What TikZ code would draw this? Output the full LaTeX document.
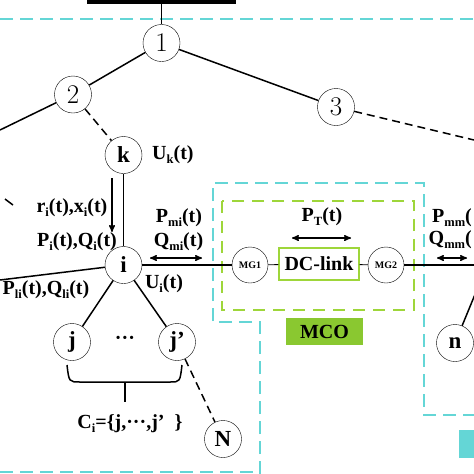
\documentclass[tikz,border=0pt]{standalone}
\usepackage{fontspec}
\newfontfamily\tnr{Liberation Serif}
\usetikzlibrary{arrows,positioning}
\definecolor{areacyan}{RGB}{100,214,214}
\definecolor{linkgreen}{RGB}{158,214,58}
\definecolor{mcofill}{RGB}{138,200,48}
\newcommand{\idx}[1]{\raisebox{-.35ex}{\fontsize{12.5}{12.5}\selectfont #1}}
\newcommand{\mdots}{\textperiodcentered\textperiodcentered\textperiodcentered}
\tikzset{bus/.style={shape=circle, draw, fill=white, inner sep=0pt,
    minimum size=37pt, font=\tnr\bfseries\fontsize{23}{23}\selectfont}}
\tikzset{numbus/.style={bus, font=\fontsize{27}{27}\selectfont}}
\tikzset{mgbus/.style={bus, minimum size=36pt,
    font=\tnr\bfseries\fontsize{10}{10}\selectfont}}
\tikzset{lbl/.style={font=\tnr\bfseries\fontsize{20}{20}\selectfont, inner sep=1pt}}
\tikzset{feeder/.style={line width=1.5pt}}
\tikzset{lateral/.style={line width=1.5pt, dash pattern=on 8pt off 5pt}}
\tikzset{area/.style={draw=areacyan, line width=1.3pt, dash pattern=on 13pt off 7pt}}
\tikzset{mcoarea/.style={draw=linkgreen, line width=1.3pt, dash pattern=on 12pt off 8pt}}

\begin{document}
\begin{tikzpicture}[>=stealth', x=10pt, y=-10pt]
    \useasboundingbox (0,0) rectangle (47.4,47.4);
    % substation
    \fill (8.7,-0.5) rectangle (23.6,0.35);
    \coordinate (src) at (16.15,0.35);
    % areas
    \path[area] (0,1.9) -- (47.4,1.9);
    \path[area] (26.0,47.4) -- (26.0,32.2) -- (21.3,32.2) -- (21.3,18.3)
        -- (42.4,18.3) -- (42.4,41.5) -- (47.4,41.5);
    \path[area] (0,47.2) -- (26.0,47.2);
    \fill[areacyan] (45.9,43.0) rectangle (47.4,45.8);
    \path[mcoarea] (22.2,20.1) rectangle (41.4,31.0);
    \node[lbl, fill=mcofill, minimum width=77pt, minimum height=27pt] (mco) at (32.45,33.15) {MCO};
    % buses
    \node[numbus] (1) at (16.15,4.3) {1};
    \node[numbus] (2) at (7.3,9.45) {2};
    \node[numbus] (3) at (33.6,10.7) {3};
    \node[bus] (k) at (12.35,15.5) {k};
    \node[bus] (i) at (12.35,26.5) {i};
    \node[bus] (j) at (7.2,34.2) {j};
    \node[bus] (jp) at (17.7,34.2) {j’};
    \node[bus] (N) at (22.3,43.9) {N};
    \node[bus] (n) at (45.5,34.3) {n};
    \node[mgbus] (mg1) at (25.0,26.5) {MG1};
    \node[mgbus] (mg2) at (38.6,26.5) {MG2};
    \node[draw=linkgreen, line width=1.3pt, fill=white, minimum width=80pt, minimum height=32pt,
        font=\tnr\bfseries\fontsize{20}{20}\selectfont] (dc) at (31.9,26.4) {DC-link};
    % free ends
    \coordinate (w2) at (0,13.0);
    \coordinate (e3) at (47.4,14.0);
    \coordinate (wi) at (0,28.0);
    \coordinate (emg) at (47.4,26.5);
    \coordinate (en) at (47.6,29.2);
    % lines
    \draw[feeder] (src) -- (1);
    \draw[feeder] (1) -- (2);
    \draw[feeder] (1) -- (3);
    \draw[feeder] (2) -- (w2);
    \draw[lateral] (2) -- (k);
    \draw[lateral] (3) -- (e3);
    \draw[feeder] (k) -- (i);
    \draw[feeder] (i) -- (wi);
    \draw[feeder] (i) -- (j);
    \draw[feeder] (i) -- (jp);
    \draw[lateral] (jp) -- (N);
    \draw[feeder] (i) -- (mg1);
    \draw[thick] (mg1) -- (dc);
    \draw[thick] (dc) -- (mg2);
    \draw[feeder] (mg2) -- (emg);
    \draw[feeder] (n) -- (en);
    \draw[feeder] (0.5,19.9) -- (1.3,20.5);
    % flows
    \draw[->, line width=1.4pt] (11.2,17.8) -- (11.2,23.2);
    \draw[<->, line width=1.4pt] (15.0,25.8) -- (20.2,25.8);
    \draw[<->, line width=1.4pt] (29.2,23.8) -- (35.1,23.8);
    \draw[<->, line width=1.4pt] (43.7,25.8) -- (46.7,25.8);
    % children of i
    \draw[feeder] (6.7,36.5) .. controls (6.9,38.2) .. (8.0,38.2) -- (17.0,38.2)
        .. controls (18.0,38.2) .. (18.2,36.5);
    \draw[feeder] (12.5,38.2) -- (12.5,40.2);
    \node[lbl] (dots) at (12.5,34.0) {\mdots};
    % labels
    \node[lbl, anchor=west] (uk) at (15.1,15.5) {U\idx{k}(t)};
    \node[lbl] (rx) at (7.2,20.8) {r\idx{i}(t),x\idx{i}(t)};
    \node[lbl] (pq) at (7.7,24.2) {P\idx{i}(t),Q\idx{i}(t)};
    \node[lbl] (pmi) at (17.9,21.8) {P\idx{mi}(t)};
    \node[lbl] (qmi) at (17.85,24.2) {Q\idx{mi}(t)};
    \node[lbl] (ui) at (16.4,28.4) {U\idx{i}(t)};
    \node[lbl] (pql) at (4.6,29.0) {P\idx{li}(t),Q\idx{li}(t)};
    \node[lbl] (pt) at (32.2,21.7) {P\idx{T}(t)};
    \node[lbl, anchor=west, inner sep=0pt] (pmm) at (43.2,21.8) {P\idx{mm}(};
    \node[lbl, anchor=west, inner sep=0pt] (qmm) at (42.85,24.0) {Q\idx{mm}(};
    \node[lbl] (ci) at (13.0,42.4) {C\idx{i}=\{j,\mdots,j’~~\}};
\end{tikzpicture}
\end{document}
